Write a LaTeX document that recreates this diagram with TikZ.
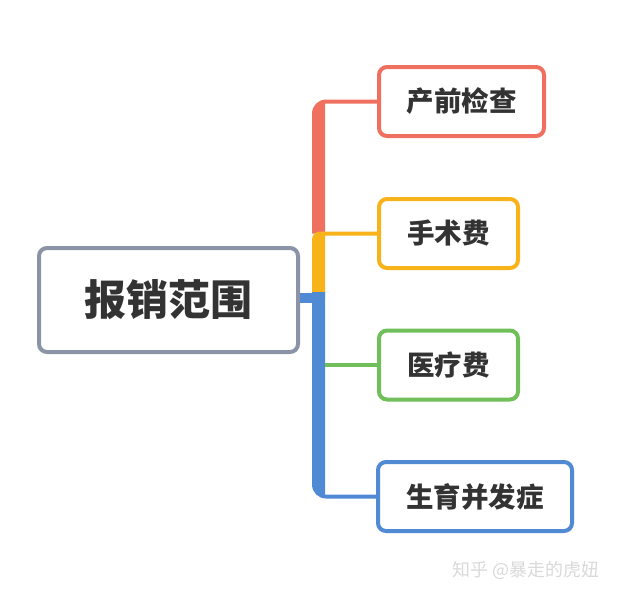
\documentclass[tikz,border=0pt]{standalone}
\usepackage{fontspec}
\newfontfamily\cjk{Noto Sans CJK SC}
\usepackage{tikz}
\usetikzlibrary{positioning, calc}
\definecolor{rootgray}{HTML}{8A94A6}
\definecolor{brred}{HTML}{F0705F}
\definecolor{bryellow}{HTML}{F8B31B}
\definecolor{brgreen}{HTML}{70BF5A}
\definecolor{brblue}{HTML}{5089D4}
\definecolor{textdark}{HTML}{333333}
\definecolor{markgray}{HTML}{D9D9D9}
\begin{document}
\begin{tikzpicture}[x=1pt, y=1pt,
                    topic/.style={draw=#1, line width=4pt, rounded corners=8pt, fill=white,
                                  text=textdark, font=\cjk\bfseries\fontsize{27.5}{32}\selectfont,
                                  inner sep=0pt, minimum height=69pt},
                    thin branch/.style={draw=#1, line width=4pt}]
    \useasboundingbox (0,0) rectangle (621,-595);

    % Root
    \node[draw=rootgray, line width=4pt, rounded corners=8pt, text=textdark,
          font=\cjk\bfseries\fontsize{42}{48}\selectfont, minimum width=259pt, minimum height=104pt]
          (root) at (168.5,-300) {报销范围};

    % Topics
    \node[topic=brred, minimum width=165pt]    (t1) at (461.5,-101.5) {产前检查};
    \node[topic=bryellow, minimum width=139pt] (t2) at (448.5,-233.5) {手术费};
    \node[topic=brgreen, minimum width=139pt]  (t3) at (448.5,-365)   {医疗费};
    \node[topic=brblue, minimum width=194pt]   (t4) at (475,-496.5)   {生育并发症};

    % Trunk points
    \coordinate (trunk) at (318.5,-298);
    \coordinate (r1) at (trunk |- t1.west);
    \coordinate (r2) at (trunk |- t2.west);
    \coordinate (r3) at (trunk |- t3.west);
    \coordinate (r4) at (trunk |- t4.west);

    % Red branch
    \fill[brred] ([xshift=-6.5pt]r2) -- ([xshift=-6.5pt,yshift=-12pt]r1)
        arc[start angle=180, end angle=90, radius=14pt] -- ([yshift=2pt]t1.west)
        -- ([yshift=-2pt]t1.west) -- ([xshift=6.5pt,yshift=-2pt]r1) -- ([xshift=6.5pt]r2) -- cycle;

    % Yellow branch
    \fill[bryellow] ([xshift=-6.5pt]trunk) -- ([xshift=-6.5pt,yshift=-6pt]r2)
        arc[start angle=180, end angle=90, radius=8pt] -- ([yshift=2pt]t2.west)
        -- ([yshift=-2pt]t2.west) -- ([xshift=6.5pt,yshift=-2pt]r2) -- ([xshift=6.5pt]trunk) -- cycle;

    % Blue branch
    \fill[brblue] ([xshift=-6.5pt,yshift=6pt]trunk) -- ([xshift=-6.5pt,yshift=12pt]r4)
        arc[start angle=180, end angle=270, radius=14pt] -- ([yshift=-2pt]t4.west)
        -- ([yshift=2pt]t4.west) -- ([xshift=6.5pt,yshift=2pt]r4) -- ([xshift=6.5pt,yshift=6pt]trunk) -- cycle;
    \draw[brblue, line width=10pt] (root.east |- trunk) -- ([xshift=-6pt]trunk);

    % Green branch
    \draw[thin branch=brgreen] ([xshift=6pt]r3) -- (t3.west);

    % Watermark
    \node[text=markgray, font=\cjk\fontsize{18}{22}\selectfont] (mark) at (526,-570) {知乎 @暴走的虎妞};
\end{tikzpicture}
\end{document}
